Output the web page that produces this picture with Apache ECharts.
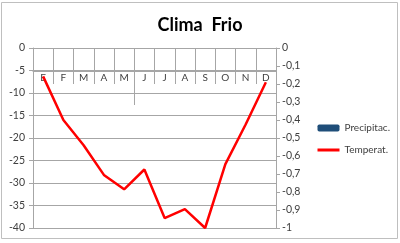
<!DOCTYPE html>
<html>
<head>
<meta charset="utf-8">
<script src="https://cdn.jsdelivr.net/npm/echarts@6/dist/echarts.min.js"></script>
<style>
html,body{margin:0;padding:0;background:#fff;}
#c{width:400px;height:243px;}
</style>
</head>
<body>
<div id="c"></div>
<script>
const months = ['E','F','M','A','M','J','J','A','S','O','N','D'];
const temperat = [-6.3, -16, -21.6, -28.2, -31.4, -27, -37.8, -35.8, -40, -25.8, -17, -7.6];
const precipitac = [null, null, null, null, null, null, null, null, null, null, null, null];
const leftTicks = {min: -40, max: 0, interval: 5};
const rightTicks = {min: -1, max: 0, interval: 0.1};

const grey = '#a6a6a6';
const txt = '#404040';
const fam = 'Lato, "Open Sans", sans-serif';

const chart = echarts.init(document.getElementById('c'), null, {renderer: 'canvas'});
chart.setOption({
  backgroundColor: '#fff',
  animation: false,
  title: {
    text: 'Clima  Frio', left: 'center', top: 11,
    textStyle: {fontFamily: fam, fontWeight: 'bold', fontSize: 18, color: '#000'}
  },
  legend: {
    orient: 'vertical', left: 316, top: 123, padding: 0, itemGap: 12,
    itemWidth: 22, itemHeight: 7,
    textStyle: {fontFamily: fam, fontSize: 10, color: txt},
    data: [
      {name: 'Precipitac.'},
      {name: 'Temperat.', itemStyle: {opacity: 0}, lineStyle: {width: 3, color: '#ff0000'}}
    ]
  },
  grid: [
    {left: 33, top: 48, width: 243, height: 180},
    {left: 33, top: 48, width: 243, height: 23}
  ],
  xAxis: [
    {gridIndex: 0, type: 'category', data: months, show: false},
    {gridIndex: 1, type: 'category', data: months, position: 'bottom',
     axisLine: {show: true, lineStyle: {color: grey, width: 1}},
     axisTick: {show: true, length: 13, interval: 0, lineStyle: {color: grey}},
     splitLine: {show: true, interval: 0, lineStyle: {color: grey, width: 1}},
     axisLabel: {margin: 2, fontSize: 10, color: txt, fontFamily: fam, interval: 0}}
  ],
  yAxis: [
    {gridIndex: 0, type: 'value', position: 'left', min: leftTicks.min, max: leftTicks.max, interval: leftTicks.interval,
     axisLine: {show: true, lineStyle: {color: grey}},
     axisTick: {show: true, length: 4, lineStyle: {color: grey}},
     splitLine: {show: true, lineStyle: {color: grey, width: 1}},
     axisLabel: {fontSize: 10.5, color: txt, fontFamily: fam, margin: 8}},
    {gridIndex: 0, type: 'value', position: 'right', min: rightTicks.min, max: rightTicks.max, interval: rightTicks.interval,
     axisLine: {show: true, lineStyle: {color: grey}},
     axisTick: {show: true, length: 4, lineStyle: {color: grey}},
     splitLine: {show: false},
     axisLabel: {fontSize: 10.5, color: txt, fontFamily: fam, margin: 6,
       formatter: v => String(Math.round(v * 10) / 10).replace('.', ',')}},
    {gridIndex: 1, type: 'value', show: false, min: 0, max: 1}
  ],
  graphic: [
    {type: 'rect', shape: {x: 1.5, y: 2.5, width: 396, height: 236}, style: {fill: 'none', stroke: '#bfbfbf', lineWidth: 1}, silent: true},
    {type: 'line', shape: {x1: 134.5, y1: 84, x2: 134.5, y2: 105}, style: {stroke: grey, lineWidth: 1}, silent: true}
  ],
  series: [
    {name: 'Precipitac.', type: 'bar', xAxisIndex: 0, yAxisIndex: 0, data: precipitac,
     itemStyle: {color: '#1f4e79'}},
    {name: 'Temperat.', type: 'line', xAxisIndex: 0, yAxisIndex: 0, data: temperat,
     symbol: 'none', lineStyle: {color: '#ff0000', width: 2.5}, itemStyle: {color: '#ff0000'}}
  ]
});
</script>
</body>
</html>
